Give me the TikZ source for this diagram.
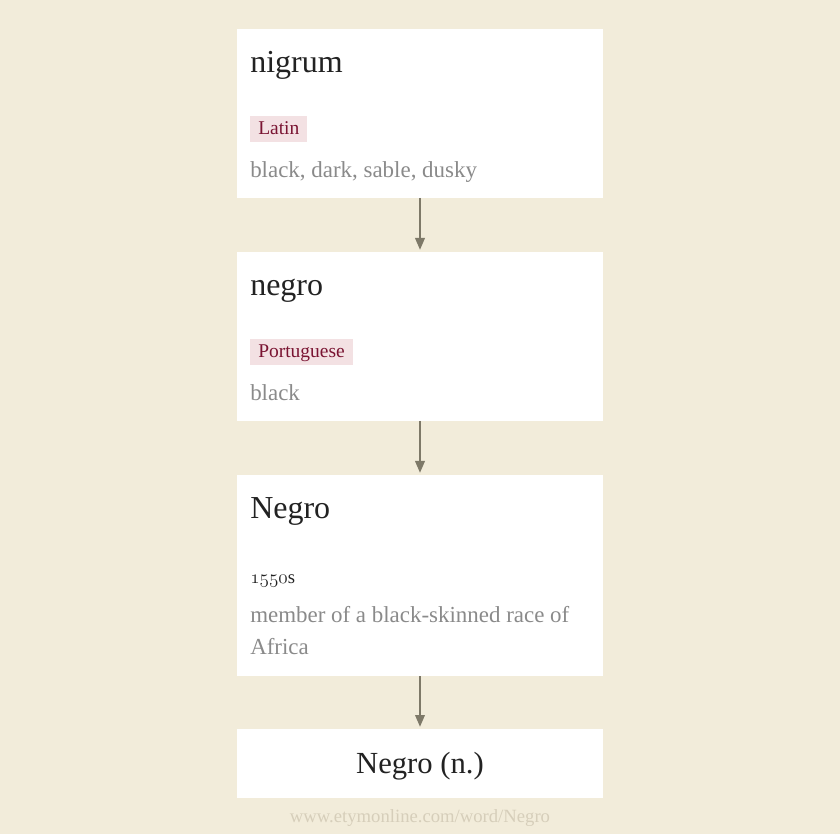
\documentclass[tikz,border=0pt]{standalone}
\usepackage{fontspec}
\setmainfont{Liberation Serif}
\usetikzlibrary{arrows.meta}

\definecolor{paper}{HTML}{F2ECDA}
\definecolor{tagbg}{HTML}{F3E1E3}
\definecolor{tagfg}{HTML}{7A1432}
\definecolor{glossfg}{HTML}{8A8A8A}
\definecolor{wordfg}{HTML}{222222}
\definecolor{arrowfg}{HTML}{7E7968}
\definecolor{footfg}{HTML}{D6CEBA}

\tikzset{
  card/.style={fill=white, draw=none, anchor=north west, inner sep=0pt, outer sep=0pt,
    minimum width=274.5pt},
  word/.style={anchor=base west, inner sep=0pt, text=wordfg, font=\fontsize{24}{28}\selectfont},
  lang/.style={anchor=base west, fill=tagbg, text=tagfg, inner xsep=6pt, inner ysep=0pt,
    text height=14.25pt, text depth=5.25pt, font=\fontsize{14.6}{16}\selectfont},
  gloss/.style={anchor=base west, inner sep=0pt, text=glossfg, font=\fontsize{17.2}{23.25}\selectfont},
  arr/.style={-{Triangle[width=7pt,length=9pt]}, line width=1.9pt, draw=arrowfg, shorten >=1.5pt}
}

\begin{document}
\begin{tikzpicture}[x=0.75pt, y=-0.75pt]

\fill [paper] (0,0) rectangle (840,834);
\useasboundingbox (0,0) rectangle (840,834);

\node [card, minimum height=126.75pt] (b1) at (237,29) {};
\node [word] (w1) at (250,73) {nigrum};
\node [lang] (l1) at (250,135) {Latin};
\node [gloss] (g1) at (250,178) {black, dark, sable, dusky};

\node [card, minimum height=126.75pt] (b2) at (237,252) {};
\node [word] (w2) at (250,296) {negro};
\node [lang] (l2) at (250,358) {Portuguese};
\node [gloss] (g2) at (250,401) {black};

\node [card, minimum height=150.75pt] (b3) at (237,475) {};
\node [word] (w3) at (250,519) {Negro};
\node [anchor=base west, inner sep=0pt, text=wordfg, font=\fontsize{14}{16}\selectfont] (d3) at (250,583) {$\mathnormal{1550}$s};
\node [gloss] (g3) at (250,623) {member of a black-skinned race of};
\node [gloss] (g3b) at (250,654) {Africa};

\node [card, minimum height=51.75pt] (b4) at (237,729) {};
\node [anchor=base, inner sep=0pt, text=wordfg, font=\fontsize{23}{27}\selectfont] (w4) at (420,773) {Negro (n.)};

\draw [arr] (b1.south) -- (b2.north);
\draw [arr] (b2.south) -- (b3.north);
\draw [arr] (b3.south) -- (b4.north);

\node [anchor=base, inner sep=0pt, text=footfg, font=\fontsize{14}{16}\selectfont] (url) at (420,822) {www.etymonline.com/word/Negro};

\end{tikzpicture}
\end{document}
